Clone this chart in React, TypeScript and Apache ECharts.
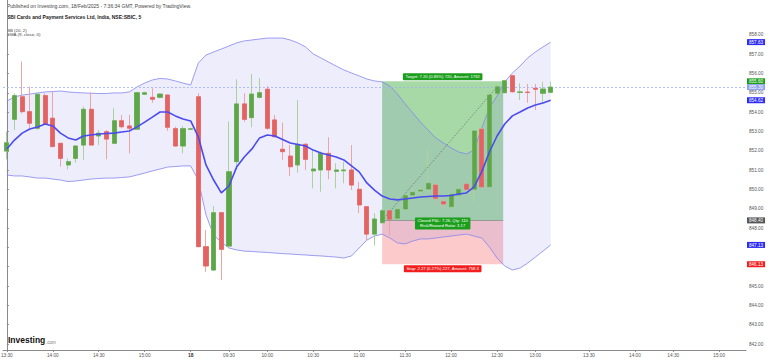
import React, { useEffect, useRef } from 'react';
import * as echarts from 'echarts';

const FONT = "'Liberation Sans', Arial, sans-serif";

// x slots: 72 traded 5-min bars + empty future space
const SLOT_COUNT = 97;
const tickSlots = [0, 6, 12, 18, 24, 29, 34, 40, 46, 52, 58, 64, 69, 76, 82, 87, 93];
const tickTexts = ['13:30', '14:00', '14:30', '15:00', '18', '09:30', '10:00', '10:30', '11:00', '11:30', '12:00', '12:30', '13:00', '13:30', '14:00', '14:30', '15:00'];

const yTicks = [842, 843, 844, 845, 846, 847, 848, 849, 850, 851, 852, 853, 854, 855, 856, 857, 858];

const opens = [
  851.99, 853.63, 854.80, 854.03, 853.17, 854.86, 853.69, 852.39, 851.27, 851.61,
  852.30, 854.15, 852.77, 852.99, 852.39, 853.56, 853.29, 853.12, 854.93, 854.77,
  854.77, 854.89, 853.15, 852.25, 853.12, 854.80, 847.04, 845.83, 848.80, 847.07,
  851.44, 854.43, 853.72, 854.77, 855.19, 853.60, 852.08, 851.73, 851.27, 852.34,
  850.96, 851.01, 851.87, 850.94, 850.97, 851.01, 850.01, 849.11, 847.69, 848.28,
  848.90, 848.51, 848.99, 849.71, 849.92, 850.02, 850.23, 849.37, 849.11, 849.71,
  850.27, 850.01, 853.12, 850.14, 854.98, 855.01, 855.89, 855.03, 855.04, 855.24,
  854.98, 855.03,
];
const closes = [
  852.42, 854.86, 854.03, 853.43, 854.93, 853.39, 852.22, 851.61, 851.44, 852.25,
  854.15, 852.30, 852.91, 852.61, 853.56, 853.25, 853.17, 855.01, 855.01, 854.67,
  854.94, 853.22, 852.25, 853.15, 853.14, 847.04, 846.04, 848.80, 846.90, 850.92,
  854.43, 853.63, 854.94, 855.01, 853.17, 852.73, 851.96, 851.18, 852.34, 851.56,
  851.06, 851.87, 851.01, 851.01, 851.01, 850.23, 849.20, 847.69, 848.47, 848.90,
  848.46, 848.97, 849.68, 849.85, 849.97, 850.32, 849.54, 849.25, 849.75, 850.01,
  850.01, 853.03, 850.14, 854.89, 855.32, 855.63, 855.06, 855.05, 855.02, 855.19,
  855.20, 855.30,
];
const lows = [
  851.56, 853.08, 853.94, 853.17, 853.08, 853.34, 852.20, 851.18, 851.04, 851.39,
  851.53, 852.28, 852.30, 851.56, 852.35, 853.17, 851.87, 853.08, 854.89, 854.49,
  854.72, 853.04, 852.20, 851.87, 853.10, 847.02, 845.74, 845.79, 845.31, 847.05,
  851.01, 853.51, 853.22, 854.72, 853.08, 852.69, 851.53, 850.70, 850.87, 851.01,
  850.06, 849.88, 850.53, 850.06, 850.32, 849.97, 848.77, 847.38, 847.09, 848.25,
  847.64, 848.42, 848.90, 849.63, 849.77, 849.88, 849.45, 849.11, 849.02, 849.63,
  849.94, 849.28, 850.06, 850.13, 854.89, 854.98, 855.02, 854.63, 854.49, 854.12,
  854.46, 854.98,
];
const highs = [
  852.99, 854.98, 856.62, 855.32, 854.98, 854.98, 855.06, 852.40, 851.61, 852.30,
  854.29, 855.03, 853.08, 853.08, 854.20, 853.86, 853.86, 855.06, 855.06, 855.24,
  854.98, 854.94, 853.25, 853.29, 853.16, 854.98, 847.90, 849.14, 848.81, 853.51,
  855.71, 854.98, 855.98, 855.76, 855.36, 853.86, 853.46, 852.30, 854.63, 852.39,
  852.08, 851.96, 852.70, 851.36, 851.44, 852.30, 850.40, 849.12, 848.77, 848.97,
  848.94, 849.04, 849.80, 850.06, 850.12, 852.13, 850.33, 849.54, 849.80, 850.14,
  850.32, 853.08, 853.17, 855.24, 855.50, 855.67, 855.93, 855.50, 855.46, 855.46,
  855.58, 855.58,
];

const bbUpper = [
  854.58, 854.79, 854.89, 854.94, 855.00, 855.05, 855.07, 855.10, 855.05, 855.02,
  855.00, 854.98, 854.97, 854.97, 855.00, 855.00, 855.05, 855.31, 855.51, 855.67,
  855.75, 855.72, 855.62, 855.51, 855.41, 856.55, 856.96, 857.12, 857.27, 857.43,
  857.59, 857.69, 857.74, 857.79, 857.84, 857.84, 857.84, 857.74, 857.59, 857.38,
  857.02, 856.81, 856.60, 856.39, 856.19, 856.03, 855.88, 855.72, 855.62, 855.57,
  855.36, 854.94, 854.43, 853.96, 853.49, 853.08, 852.67, 852.41, 852.15, 851.94,
  851.84, 852.04, 853.18, 854.22, 854.84, 855.57, 856.03, 856.39, 856.81, 857.12,
  857.38, 857.63,
];
const bbLower = [
  850.75, 850.70, 850.70, 850.65, 850.59, 850.59, 850.54, 850.49, 850.41, 850.44,
  850.49, 850.54, 850.57, 850.59, 850.59, 850.62, 850.65, 850.75, 850.85, 850.96,
  851.06, 851.16, 851.19, 851.22, 851.22, 850.49, 848.68, 847.64, 847.28, 846.97,
  846.87, 846.81, 846.79, 846.76, 846.74, 846.71, 846.68, 846.66, 846.63, 846.61,
  846.58, 846.56, 846.53, 846.50, 846.45, 846.56, 846.97, 847.38, 847.59, 847.69,
  847.49, 847.23, 847.18, 847.33, 847.44, 847.44, 847.49, 847.54, 847.59, 847.64,
  847.69, 847.59, 847.49, 847.02, 846.45, 846.04, 845.83, 845.93, 846.19, 846.50,
  846.81, 847.13,
];
const ema9 = [
  852.10, 852.56, 852.92, 853.13, 853.24, 853.39, 853.29, 852.92, 852.67, 852.56,
  852.77, 852.82, 852.87, 852.90, 852.92, 852.98, 853.03, 853.24, 853.49, 853.75,
  854.01, 854.01, 853.81, 853.65, 853.55, 852.72, 851.27, 850.49, 849.82, 850.18,
  851.16, 851.68, 852.10, 852.67, 852.82, 852.77, 852.59, 852.41, 852.33, 852.25,
  852.04, 851.89, 851.79, 851.68, 851.53, 851.22, 850.91, 850.34, 849.97, 849.66,
  849.51, 849.46, 849.51, 849.56, 849.61, 849.64, 849.66, 849.66, 849.69, 849.77,
  849.82, 850.13, 850.91, 851.94, 852.77, 853.39, 853.81, 854.01, 854.22, 854.37,
  854.48, 854.62,
];

// long position tool
const posStart = 49;
const posEnd = 64.8;
const entryPrice = 848.40;
const targetPrice = 855.60;
const stopPrice = 846.13;
const diagEnd = [64, 855.32];
const lastPrice = 855.30;

const targetText = 'Target: 7.20 (0.85%) 720, Amount: 1782';
const midText = 'Closed P&L: 7.26, Qty: 110\nRisk/Reward Ratio: 3.17';
const stopText = 'Stop: 2.27 (0.27%) 227, Amount: 758.3';

const tagValues = [857.63, 855.60, 855.30, 854.62, 848.40, 847.13, 846.13];
const tagColors = ['#2c2cf2', '#1b9e1b', '#8ea2f0', '#2c2cf2', '#555555', '#2c2cf2', '#f21e1e'];

const Y_MIN = 841.69;
const Y_MAX = 859.81;

export default function App() {
  const ref = useRef<HTMLDivElement>(null);

  useEffect(() => {
    if (!ref.current) return;
    const chart = echarts.init(ref.current, undefined, { renderer: 'svg' });

    const slots = Array.from({ length: SLOT_COUNT }, (_, i) => String(i));
    const tickSet = new Set(tickSlots);
    const wickData = opens.map((o, i) => [o, closes[i], lows[i], highs[i]]);
    const bodyData = opens.map((o, i) => [o, closes[i], Math.min(o, closes[i]), Math.max(o, closes[i])]);
    const bbDiff = bbUpper.map((u, i) => +(u - bbLower[i]).toFixed(2));
    // price tags on the axis cover the tick labels right under them
    const labelValues = yTicks.filter((v) => !tagValues.some((t) => Math.abs(t - v) < 0.2));

    const rich: Record<string, any> = {};
    tagColors.forEach((c, i) => {
      rich['t' + i] = {
        backgroundColor: c,
        color: '#ffffff',
        fontSize: 4.6,
        lineHeight: 5,
        padding: [0.6, 2, 0.4, 2],
        fontFamily: FONT,
      };
    });

    const labelBox = (bg: string) => ({
      show: true,
      color: '#ffffff',
      backgroundColor: bg,
      borderRadius: 1,
      fontSize: 4.2,
      lineHeight: 5,
      padding: [1, 2.5],
      fontFamily: FONT,
    });

    const option: any = {
      animation: false,
      backgroundColor: '#ffffff',
      grid: { left: 3, right: 22, top: 0, bottom: 9, containLabel: false, outerBoundsMode: 'none' },
      xAxis: [
        {
          type: 'category',
          data: slots,
          boundaryGap: true,
          axisLine: { show: true, lineStyle: { color: '#8a8a8a', width: 1 } },
          axisTick: {
            show: true,
            alignWithLabel: true,
            length: 2,
            interval: (idx: number) => tickSet.has(idx),
            lineStyle: { color: '#8a8a8a' },
          },
          axisLabel: {
            show: true,
            interval: (idx: number) => tickSet.has(idx),
            formatter: (_v: string, idx: number) => {
              const k = tickSlots.indexOf(idx);
              if (k < 0) return '';
              const t = tickTexts[k];
              return t === '18' ? '{b|18}' : t;
            },
            rich: { b: { fontWeight: 'bold', fontSize: 4.9, color: '#333', fontFamily: FONT } },
            fontSize: 4.7,
            color: '#555',
            margin: 3,
            fontFamily: FONT,
          },
          splitLine: { show: false },
        },
        {
          type: 'value',
          min: -0.5,
          max: SLOT_COUNT - 0.5,
          show: false,
          gridIndex: 0,
        },
      ],
      yAxis: [
        {
          type: 'value',
          position: 'right',
          min: Y_MIN,
          max: Y_MAX,
          scale: true,
          axisLine: { show: true, lineStyle: { color: '#8a8a8a', width: 1 } },
          axisTick: { show: true, length: 2, customValues: yTicks, lineStyle: { color: '#8a8a8a' } },
          axisLabel: {
            show: true,
            customValues: labelValues,
            formatter: (v: number) => v.toFixed(2),
            fontSize: 4.7,
            color: '#555',
            margin: 3,
            fontFamily: FONT,
          },
          splitLine: { show: false },
        },
        {
          type: 'value',
          position: 'right',
          min: Y_MIN,
          max: Y_MAX,
          scale: true,
          axisLine: { show: false },
          axisTick: { show: false },
          axisLabel: {
            show: true,
            customValues: tagValues,
            margin: 1,
            formatter: (v: number) => {
              let k = 0;
              let best = Infinity;
              tagValues.forEach((t, i) => {
                const d = Math.abs(t - v);
                if (d < best) { best = d; k = i; }
              });
              return '{t' + k + '|' + tagValues[k].toFixed(2) + '}';
            },
            rich,
          },
          splitLine: { show: false },
        },
      ],
      series: [
        {
          name: 'bbBase',
          type: 'line',
          data: bbLower,
          stack: 'bb',
          symbol: 'none',
          lineStyle: { opacity: 0 },
          silent: true,
          z: 1,
        },
        {
          name: 'bbFill',
          type: 'line',
          data: bbDiff,
          stack: 'bb',
          symbol: 'none',
          lineStyle: { opacity: 0 },
          areaStyle: { color: 'rgba(110,110,225,0.18)' },
          silent: true,
          z: 1,
        },
        {
          name: 'position',
          type: 'line',
          xAxisIndex: 1,
          yAxisIndex: 0,
          data: [[posStart, entryPrice]],
          showSymbol: false,
          symbol: 'none',
          lineStyle: { opacity: 0 },
          silent: true,
          z: 2,
          markArea: {
            silent: true,
            data: [
              [
                {
                  coord: [posStart, entryPrice],
                  itemStyle: { color: 'rgba(60,170,60,0.45)' },
                  label: { ...labelBox('#1b9e1b'), position: 'top', distance: 1, formatter: targetText },
                },
                { coord: [posEnd, targetPrice] },
              ],
              [
                {
                  coord: [posStart, stopPrice],
                  itemStyle: { color: 'rgba(245,60,60,0.27)' },
                  label: { ...labelBox('#f21e1e'), position: 'bottom', distance: 1, formatter: stopText },
                },
                { coord: [posEnd, entryPrice] },
              ],
            ],
          },
          markLine: {
            silent: true,
            symbol: ['none', 'none'],
            label: { show: false },
            data: [
              { yAxis: lastPrice, lineStyle: { color: '#9fb0f6', type: [2, 2], width: 0.8 } },
              [
                { coord: [posStart, entryPrice], lineStyle: { color: '#8d8d8d', type: 'solid', width: 0.8 } },
                { coord: [posEnd, entryPrice] },
              ],
              [
                { coord: [posStart, entryPrice], lineStyle: { color: '#666666', type: [1.5, 1.5], width: 0.7 } },
                { coord: diagEnd },
              ],
            ],
          },
          markPoint: {
            silent: true,
            data: [
              {
                coord: [(posStart + posEnd) / 2, entryPrice],
                symbol: 'rect',
                symbolSize: [1, 1],
                itemStyle: { color: 'rgba(0,0,0,0)' },
                label: { ...labelBox('#1b9e1b'), position: 'inside', offset: [0, 3], align: 'center', formatter: midText },
              },
            ],
          },
        },
        {
          name: 'bbUpper',
          type: 'line',
          data: bbUpper,
          symbol: 'none',
          lineStyle: { color: '#8585ef', width: 0.8 },
          silent: true,
          z: 3,
        },
        {
          name: 'bbLower',
          type: 'line',
          data: bbLower,
          symbol: 'none',
          lineStyle: { color: '#8585ef', width: 0.8 },
          silent: true,
          z: 3,
        },
        {
          name: 'wicks',
          type: 'candlestick',
          data: wickData,
          barWidth: '60%',
          itemStyle: {
            color: '#a9d39a',
            color0: '#f0a3a3',
            borderColor: '#a9d39a',
            borderColor0: '#f0a3a3',
            borderWidth: 1,
          },
          silent: true,
          z: 4,
        },
        {
          name: 'bodies',
          type: 'candlestick',
          data: bodyData,
          barWidth: '60%',
          itemStyle: {
            color: '#5fa64a',
            color0: '#e36262',
            borderColor: '#5fa64a',
            borderColor0: '#e36262',
            borderWidth: 0.6,
          },
          silent: true,
          z: 5,
        },
        {
          name: 'ema',
          type: 'line',
          data: ema9,
          symbol: 'none',
          lineStyle: { color: '#4b4bf0', width: 1.6 },
          silent: true,
          z: 6,
        },
      ],
      graphic: [
        {
          type: 'text',
          left: 7,
          top: 3.5,
          style: {
            text: 'Published on Investing.com, 18/Feb/2025 - 7:36:34 GMT, Powered by TradingView.',
            fontSize: 5,
            fill: '#444',
            fontFamily: FONT,
          },
        },
        {
          type: 'text',
          left: 7,
          top: 14.5,
          style: {
            text: 'SBI Cards and Payment Services Ltd, India, NSE:SBIC, 5',
            fontSize: 5,
            fontWeight: 'bold',
            fill: '#222',
            fontFamily: FONT,
          },
        },
        {
          type: 'text',
          left: 7,
          top: 28,
          style: { text: 'BB (20, 2)', fontSize: 4.4, fill: '#444', fontFamily: FONT },
        },
        {
          type: 'text',
          left: 7,
          top: 32.5,
          style: { text: 'EMA (9, close, 0)', fontSize: 4.4, fill: '#444', fontFamily: FONT },
        },
        {
          type: 'text',
          left: 8,
          top: 335.5,
          style: { text: 'Investing', fontSize: 8.5, fontWeight: 'bold', fill: '#111', fontFamily: FONT },
        },
        {
          type: 'text',
          left: 46,
          top: 339.5,
          style: { text: '.com', fontSize: 4.5, fill: '#777', fontFamily: FONT },
        },
      ],
    };

    chart.setOption(option);
    return () => {
      chart.dispose();
    };
  }, []);

  return (
    <div
      ref={ref}
      style={{ position: 'absolute', left: 0, top: 0, width: 768, height: 359, background: '#ffffff' }}
    />
  );
}
